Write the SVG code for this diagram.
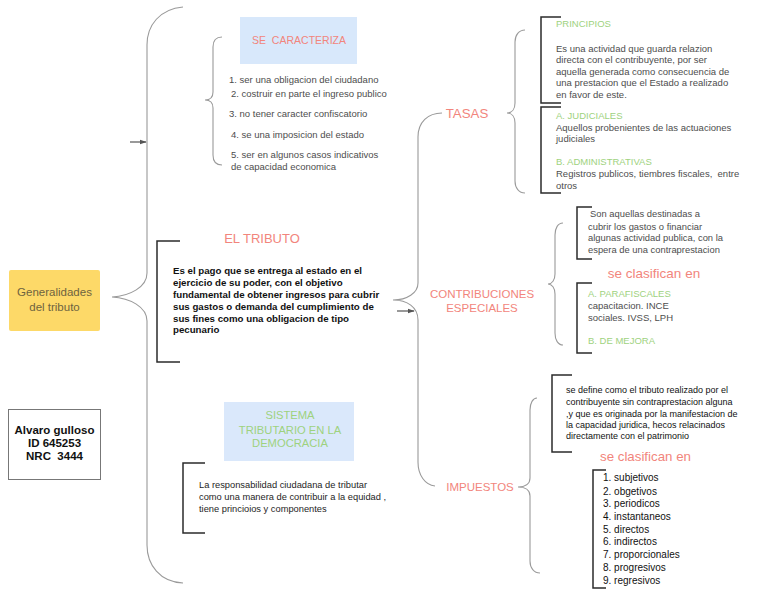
<svg xmlns="http://www.w3.org/2000/svg" width="768" height="594" viewBox="0 0 768 594">
<defs>
<style>
text{font-family:"Liberation Sans",Arial,sans-serif}
.brace{fill:none;stroke:#9a9a9a;stroke-width:1.1}
.bracket{fill:none;stroke:#2b2b2b;stroke-width:1.5}
.arrow{fill:none;stroke:#555;stroke-width:1.2}
.red{fill:#f2857c}
.green{fill:#9ed27e}
.grey{fill:#4d4d4d}
.blk{fill:#111}
.s95{font-size:9.5px}
.s9{font-size:9px}
.s94{font-size:9.4px}
</style>
<marker id="ah" viewBox="0 0 10 10" refX="9" refY="5" markerWidth="6" markerHeight="6" orient="auto">
<path d="M0,1.5 L10,5 L0,8.5 Z" fill="#555"/>
</marker>
</defs>
<rect width="768" height="594" fill="#ffffff"/>

<g id="connectors">
<path class="brace" d="M183,7 C160,9 147,25 147,45 V273 C147,287 130,296 112,297 C130,298 147,307 147,321 V545 C147,565 160,582 183,583"/>
<path class="arrow" d="M130,142 H146" marker-end="url(#ah)"/>
<path class="brace" d="M442,113 C428,113 418,122 418,137 V283 C418,293 407,300 393,300 C407,300 418,307 418,320 V462 C418,475 425,485 435,486"/>
<path class="arrow" d="M397,311 H414" marker-end="url(#ah)"/>
<path class="brace" d="M222,37 C216,37 213,41 213,47 V92 C213,97 210,100 205,100 C210,100 213,103 213,108 V155 C213,161 216,165 222,165"/>
<path class="brace" d="M525,30 C519,30 515,35 515,42 V103 C515,109 512,113 507,113 C512,113 515,117 515,123 V181 C515,188 519,193 525,193"/>
<path class="brace" d="M563,223 C558,223 555,228 555,235 V274 C555,280 552,284 548,284 C552,284 555,288 555,294 V333 C555,340 558,345 563,345"/>
<path class="brace" d="M537,398 C533,398 530,403 530,410 V478 C530,484 525,487 518,487 C525,487 530,490 530,496 V561 C530,568 534,573 540,573"/>
<path class="bracket" d="M180,241 H157 V362 H180"/>
<path class="bracket" d="M205,463 H183 V533 H205"/>
<path class="bracket" d="M561,17 H541 V103 H561"/>
<path class="bracket" d="M561,107 H541 V193 H561"/>
<path class="bracket" d="M592,207 H577 V259 H592"/>
<path class="bracket" d="M592,283 H577 V353 H592"/>
<path class="bracket" d="M572,375 H552 V452 H572"/>
<path class="bracket" d="M606,470 H593 V588 H606"/>
</g>

<g id="generalidades">
<rect x="9" y="270" width="91" height="61" rx="2" fill="#fdd968"/>
<text x="54.5" y="296" font-size="11.5" fill="#6e6340" text-anchor="middle">Generalidades</text>
<text x="54.5" y="311" font-size="11.5" fill="#6e6340" text-anchor="middle">del tributo</text>
</g>

<g id="autor">
<rect x="8.5" y="409.5" width="92" height="70" fill="#ffffff" stroke="#777" stroke-width="1"/>
<text x="54.5" y="434" font-size="11.5" font-weight="bold" class="blk" text-anchor="middle">Alvaro gulloso</text>
<text x="54.5" y="447" font-size="11.5" font-weight="bold" class="blk" text-anchor="middle">ID 645253</text>
<text x="54.5" y="460" font-size="11.5" font-weight="bold" class="blk" text-anchor="middle" xml:space="preserve">NRC  3444</text>
</g>

<g id="se-caracteriza">
<rect x="240" y="17" width="117" height="47" fill="#d8e8fb"/>
<text x="299" y="44" font-size="10.5" class="red" text-anchor="middle" xml:space="preserve">SE  CARACTERIZA</text>
</g>

<g id="caracteristicas" class="grey s95">
<text x="229" y="82.5">1. ser una obligacion del ciudadano</text>
<text x="231" y="96.5">2. costruir en parte el ingreso publico</text>
<text x="229" y="116.5">3. no tener caracter confiscatorio</text>
<text x="231" y="137.5">4. se una imposicion del estado</text>
<text x="231" y="157.5">5. ser en algunos casos indicativos</text>
<text x="231" y="169.5">de capacidad economica</text>
</g>

<g id="el-tributo">
<text x="262" y="243" font-size="13" class="red" text-anchor="middle">EL TRIBUTO</text>
<g font-size="9.7" font-weight="bold" class="blk">
<text x="173" y="274">Es el pago que se entrega al estado en el</text>
<text x="173" y="286">ejercicio de su poder, con el objetivo</text>
<text x="173" y="298">fundamental de obtener ingresos para cubrir</text>
<text x="173" y="310">sus gastos o demanda del cumplimiento de</text>
<text x="173" y="321.5">sus fines como una obligacion de tipo</text>
<text x="173" y="333">pecunario</text>
</g>
</g>

<g id="sistema">
<rect x="224" y="402" width="130" height="59" fill="#dae8fb"/>
<text x="290" y="419" font-size="11.2" class="green" text-anchor="middle">SISTEMA</text>
<text x="290" y="434" font-size="11.2" class="green" text-anchor="middle">TRIBUTARIO EN LA</text>
<text x="290" y="447" font-size="11.2" class="green" text-anchor="middle">DEMOCRACIA</text>
<g font-size="9.3" fill="#1e1e1e">
<text x="199" y="488">La responsabilidad ciudadana de tributar</text>
<text x="199" y="500">como una manera de contribuir a la equidad ,</text>
<text x="199" y="512">tiene princioios y componentes</text>
</g>
</g>

<g id="tasas">
<text x="467" y="118" font-size="13.3" class="red" text-anchor="middle">TASAS</text>
<text x="556" y="27" font-size="9.5" class="green">PRINCIPIOS</text>
<g class="grey s95">
<text x="556" y="51.5">Es una actividad que guarda relazion</text>
<text x="556" y="63">directa con el contribuyente, por ser</text>
<text x="556" y="74.5">aquella generada como consecuencia de</text>
<text x="556" y="86">una prestacion que el Estado a realizado</text>
<text x="556" y="97.5">en favor de este.</text>
</g>
<text x="556" y="118.5" font-size="9.5" class="green">A. JUDICIALES</text>
<text x="556" y="130.5" class="grey s95">Aquellos probenientes de las actuaciones</text>
<text x="556" y="142" class="grey s95">judiciales</text>
<text x="556" y="165" font-size="9.5" class="green">B. ADMINISTRATIVAS</text>
<text x="556" y="176.5" class="grey s95" xml:space="preserve">Registros publicos, tiembres fiscales,  entre</text>
<text x="556" y="188.5" class="grey s95">otros</text>
</g>

<g id="contribuciones">
<text x="482" y="297.5" font-size="11.5" class="red" text-anchor="middle">CONTRIBUCIONES</text>
<text x="482" y="311.5" font-size="11.5" class="red" text-anchor="middle">ESPECIALES</text>
<g class="grey s94">
<text x="590" y="217">Son aquellas destinadas a</text>
<text x="588" y="229.5">cubrir los gastos o financiar</text>
<text x="588" y="241">algunas actividad publica, con la</text>
<text x="588" y="252.5">espera de una contraprestacion</text>
</g>
<text x="654" y="278" font-size="13.5" class="red" text-anchor="middle">se clasifican en</text>
<text x="588" y="296.5" font-size="9.5" class="green">A. PARAFISCALES</text>
<text x="588" y="308.5" class="grey s95">capacitacion. INCE</text>
<text x="588" y="320.5" class="grey s95">sociales. IVSS, LPH</text>
<text x="588" y="343.5" font-size="9.5" class="green">B. DE MEJORA</text>
</g>

<g id="impuestos">
<text x="480" y="491" font-size="11.5" class="red" text-anchor="middle">IMPUESTOS</text>
<g class="blk s9">
<text x="566" y="393">se define como el tributo realizado por el</text>
<text x="566" y="405">contribuyente sin contraprestacion alguna</text>
<text x="566" y="416.5">,y que es originada por la manifestacion de</text>
<text x="566" y="427.5">la capacidad juridica, hecos relacinados</text>
<text x="566" y="439">directamente con el patrimonio</text>
</g>
<text x="645.5" y="461" font-size="13.3" class="red" text-anchor="middle">se clasifican en</text>
<g font-size="10" class="blk">
<text x="603" y="481">1. subjetivos</text>
<text x="603" y="494.5">2. obgetivos</text>
<text x="603" y="506.5">3. periodicos</text>
<text x="603" y="519.5">4. instantaneos</text>
<text x="603" y="532.5">5. directos</text>
<text x="603" y="544.5">6. indirectos</text>
<text x="603" y="558">7. proporcionales</text>
<text x="603" y="570.5">8. progresivos</text>
<text x="603" y="583.5">9. regresivos</text>
</g>
</g>
</svg>
